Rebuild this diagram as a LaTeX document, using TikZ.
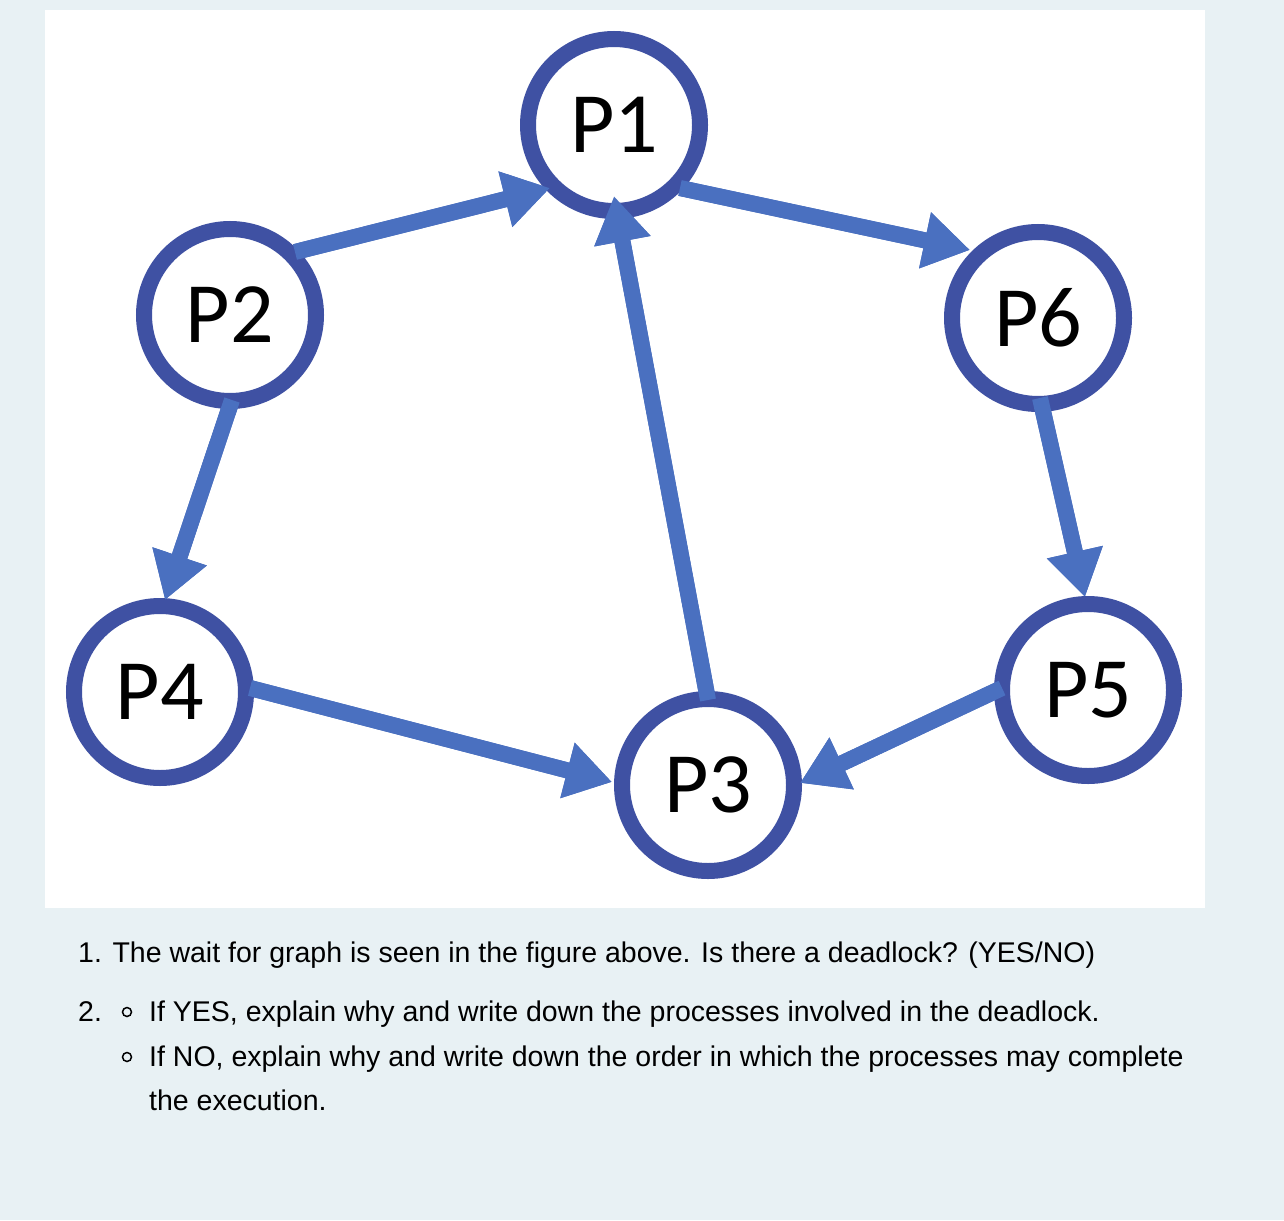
\documentclass[tikz,border=0pt]{standalone}
\usepackage{fontspec}
\setmainfont{Liberation Sans}
\newfontfamily\nodefont{Carlito}
\usetikzlibrary{arrows.meta}
\definecolor{bgc}{HTML}{E8F1F4}
\definecolor{ring}{HTML}{3F51A3}
\definecolor{arr}{HTML}{4A70C0}
\tikzset{
 proc/.style={circle,draw=ring,line width=16pt,fill=white,minimum size=172pt,inner sep=0pt,
   font=\nodefont\fontsize{86}{88}\selectfont},
 wf/.style={draw=arr,line width=16pt,-{Triangle[width=54pt,length=46pt]}},
 qt/.style={anchor=base west,font=\fontsize{28.5}{32}\selectfont,inner sep=0pt}
}
\begin{document}
\begin{tikzpicture}[x=1pt,y=-1pt]
\useasboundingbox (0,0) rectangle (1284,1220);
\fill[bgc] (0,0) rectangle (1284,1220);
\fill[white] (45,10) rectangle (1205,908);
\coordinate (a1) at (295,252); \coordinate (b1) at (550,188);
\coordinate (a2) at (680,188); \coordinate (b2) at (970,250);
\coordinate (a3) at (232,400); \coordinate (b3) at (165,600);
\coordinate (a4) at (1040,398); \coordinate (b4) at (1085,597);
\coordinate (a5) at (708,700); \coordinate (b5) at (614,196);
\coordinate (a6) at (250,688); \coordinate (b6) at (612,782);
\coordinate (a7) at (1002,688); \coordinate (b7) at (800,783);
\draw[wf] (a1) -- (b1);
\draw[wf] (a2) -- (b2);
\draw[wf] (a3) -- (b3);
\draw[wf] (a4) -- (b4);
\draw[wf] (a5) -- (b5);
\draw[wf] (a6) -- (b6);
\draw[wf] (a7) -- (b7);
\node[proc] (P1) at (614,125) {P1};
\node[proc] (P2) at (230,315) {P2};
\node[proc] (P6) at (1038,318) {P6};
\node[proc] (P4) at (160,692) {P4};
\node[proc] (P3) at (708,785) {P3};
\node[proc] (P5) at (1088,690) {P5};
\draw[wf] (a1) -- (b1);
\draw[wf] (a2) -- (b2);
\draw[wf] (a3) -- (b3);
\draw[wf] (a4) -- (b4);
\draw[wf] (a5) -- (b5);
\draw[wf] (a6) -- (b6);
\draw[wf] (a7) -- (b7);
\node[qt] (t1) at (78,962) {1. The wait for graph is seen in the figure above. Is there a deadlock? (YES/NO)};
\node[qt] (t2) at (78,1021) {2.};
\node[qt] (t3) at (149,1021) {If YES, explain why and write down the processes involved in the deadlock.};
\node[qt] (t4) at (149,1066) {If NO, explain why and write down the order in which the processes may complete};
\node[qt] (t5) at (149,1110) {the execution.};
\draw[line width=1.5pt] (127,1012) circle (4.5pt);
\draw[line width=1.5pt] (127,1057) circle (4.5pt);
\end{tikzpicture}
\end{document}
